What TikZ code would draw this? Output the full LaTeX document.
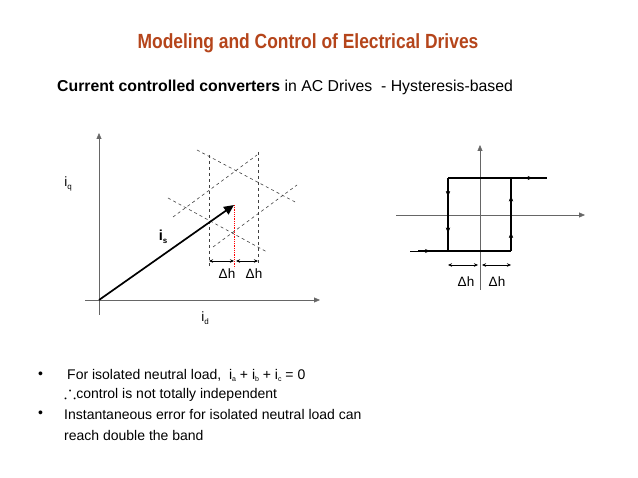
\documentclass[tikz,border=0pt]{standalone}
\usepackage{amssymb}
\usepackage{fontspec}
\setmainfont{Liberation Sans}
\usetikzlibrary{arrows.meta,decorations.markings}
\definecolor{ttl}{HTML}{B5451B}
\begin{document}
\begin{tikzpicture}[x=1pt,y=-1pt,
  ax/.style={gray!80!black,-{Triangle[length=6pt,width=5pt]}},
  dsh/.style={dashed,black!75,semithick},
  dh/.style={{Stealth[length=4pt,width=3.5pt]}-{Stealth[length=4pt,width=3.5pt]},semithick},
  lp/.style={line width=1.6pt},
  mk/.style={postaction={decorate},decoration={markings,mark=at position #1 with {\arrow{Stealth[length=5pt,width=4pt]}}}},
  lbl/.style={font=\fontsize{13.5}{15}\selectfont,inner sep=0pt}]
\useasboundingbox (0,0) rectangle (638,478);
\node[font=\fontsize{20.5}{24}\selectfont\bfseries,text=ttl,xscale=0.85] (title) at (308,43) {Modeling and Control of Electrical Drives};
\node[anchor=west,font=\fontsize{15.8}{18}\selectfont,inner sep=0] (sub) at (57,87) {\textbf{Current controlled converters} in AC Drives\ \ - Hysteresis-based};
% left diagram
\coordinate (o) at (99,300);
\coordinate (yt) at (99,133);
\coordinate (xt) at (320,300);
\coordinate (yb) at (99,315);
\coordinate (xl) at (85,300);
\draw[ax] (yb) -- (yt);
\draw[ax] (xl) -- (xt);
\coordinate (tip) at (234,205);
\draw[dsh] (209,155) -- (209,266);
\draw[dsh] (258,152) -- (258,263);
\draw[dsh] (197,150) -- (297,203);
\draw[dsh] (168,198) -- (267,252);
\draw[dsh] (173,217) -- (257,155);
\draw[dsh] (213,247) -- (297,185);
\draw[red,densely dotted,thick] (tip) -- (234,268);
\draw[line width=1.7pt,-{Triangle[length=10pt,width=9pt]}] (o) -- (tip);
\draw[dh] (209,261) -- (234,261);
\draw[dh] (236,261) -- (258,261);
\node[lbl] (iq) at (68,184) {i\raisebox{-2.5pt}{\footnotesize q}};
\node[lbl,font=\fontsize{14.5}{15}\selectfont\bfseries] (is) at (163,237) {i\raisebox{-2.5pt}{\footnotesize s}};
\node[lbl] (d1) at (227,274) {Δh};
\node[lbl] (d2) at (254,274) {Δh};
\node[lbl] (id) at (205,318) {i\raisebox{-2.5pt}{\footnotesize d}};
% right diagram
\draw[ax] (480,290) -- (480,145);
\draw[ax] (396,215) -- (585,215);
\draw[thin] (410,251) -- (418,251);
\draw[lp,mk=0.4] (418,251) -- (448,251);
\draw[lp] (448,251) -- (511,251);
\draw[lp,mk=0.25,mk=0.75] (511,251) -- (511,178);
\draw[lp] (511,178) -- (448,178);
\draw[lp,mk=0.25,mk=0.75] (448,178) -- (448,251);
\draw[lp,mk=0.6] (511,178) -- (547,178);
\draw[dh,thin] (448,265) -- (478,265);
\draw[dh,thin] (482,265) -- (511,265);
\node[lbl] (d3) at (466,282) {Δh};
\node[lbl] (d4) at (497,282) {Δh};
% bullets
\begin{scope}[every node/.style={anchor=west,inner sep=0,font=\fontsize{14}{16}\selectfont}]
\node (b1) at (38,375) {•};
\node (t1) at (67,375) {For isolated neutral load,\ \ i\raisebox{-2pt}{\scriptsize a} + i\raisebox{-2pt}{\scriptsize b} + i\raisebox{-2pt}{\scriptsize c} = 0};
\node (t2) at (64,394) {\scalebox{1.3}{$\therefore$}control is not totally independent};
\node (b2) at (38,414) {•};
\node (t3) at (64,414) {Instantaneous error for isolated neutral load can};
\node (t4) at (64,435) {reach double the band};
\end{scope}
\end{tikzpicture}
\end{document}
